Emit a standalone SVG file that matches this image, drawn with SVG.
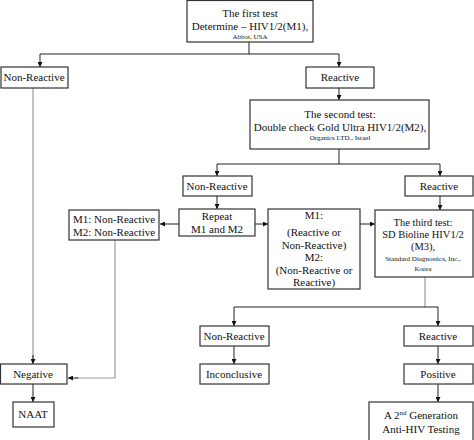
<svg xmlns="http://www.w3.org/2000/svg" width="474" height="440" viewBox="0 0 474 440">
<style>
.box{fill:#fff;stroke:#333;stroke-width:1.2}
text{font-family:"Liberation Serif","Times New Roman",serif;font-size:11px;fill:#111;text-anchor:middle}
.sm{font-size:7px}
.md{font-size:10.5px}
.ln{fill:none;stroke:#222;stroke-width:1}
.gr{fill:none;stroke:#999;stroke-width:1.2}
</style>
<defs>
<marker id="ar" viewBox="0 0 8 8" refX="8" refY="4" markerWidth="5" markerHeight="5" orient="auto" markerUnits="userSpaceOnUse">
<path d="M0,0 L8,4 L0,8 z" fill="#111"/>
</marker>
</defs>
<rect width="474" height="440" fill="#fff"/>
<g id="connectors">
<path class="ln" d="M249,42 V54 M40,54 H339"/>
<path class="ln" d="M40,54 V67" marker-end="url(#ar)"/>
<path class="ln" d="M339,54 V67" marker-end="url(#ar)"/>
<path class="ln" d="M339,88 V100" marker-end="url(#ar)"/>
<path class="ln" d="M339,149 V164 M217,164 H440"/>
<path class="ln" d="M217,164 V176" marker-end="url(#ar)"/>
<path class="ln" d="M440,164 V176" marker-end="url(#ar)"/>
<path class="ln" d="M217,196 V209" marker-end="url(#ar)"/>
<path class="ln" d="M440,196 V210" marker-end="url(#ar)"/>
<path class="ln" d="M179,224 H160" marker-end="url(#ar)"/>
<path class="ln" d="M255,224 H268" marker-end="url(#ar)"/>
<path class="ln" d="M360,224 H375" marker-end="url(#ar)"/>
<path class="gr" d="M33,88 V360"/>
<path class="ln" d="M33,355 V364" marker-end="url(#ar)"/>
<path class="gr" d="M115,240 V378 H75"/>
<path class="ln" d="M78,378 H68" marker-end="url(#ar)"/>
<path class="gr" d="M425,277 V307"/>
<path class="ln" d="M234,307 H438"/>
<path class="ln" d="M234,307 V326" marker-end="url(#ar)"/>
<path class="ln" d="M438,307 V326" marker-end="url(#ar)"/>
<path class="ln" d="M234,346 V364" marker-end="url(#ar)"/>
<path class="ln" d="M438,346 V364" marker-end="url(#ar)"/>
<path class="ln" d="M33,384 V402" marker-end="url(#ar)"/>
<path class="ln" d="M438,384 V402" marker-end="url(#ar)"/>
</g>
<g id="first-test">
<rect class="box" x="187" y="0.5" width="126" height="41.5"/>
<text x="250" y="17">The first test</text>
<text x="250" y="30">Determine  – HIV1/2(M1),</text>
<text class="sm" x="250" y="39">Abbot, USA</text>
</g>
<g id="nonreactive-1">
<rect class="box" x="1" y="67" width="67" height="21"/>
<text x="34" y="81">Non-Reactive</text>
</g>
<g id="reactive-1">
<rect class="box" x="306" y="67" width="68" height="21"/>
<text x="340" y="81">Reactive</text>
</g>
<g id="second-test">
<rect class="box" x="250" y="100" width="179" height="49"/>
<text x="340" y="118">The second test:</text>
<text x="340" y="131">Double check Gold Ultra HIV1/2(M2),</text>
<text class="sm" x="340" y="140">Organics LTD., Israel</text>
</g>
<g id="nonreactive-2">
<rect class="box" x="183" y="176" width="69" height="20"/>
<text x="217" y="190">Non-Reactive</text>
</g>
<g id="reactive-2">
<rect class="box" x="405" y="176" width="68" height="20"/>
<text x="439" y="190">Reactive</text>
</g>
<g id="m1m2-nonreactive">
<rect class="box" x="69" y="210" width="90" height="30"/>
<text x="114" y="223">M1: Non-Reactive</text>
<text x="114" y="236">M2: Non-Reactive</text>
</g>
<g id="repeat">
<rect class="box" x="179" y="209" width="76" height="27"/>
<text x="217" y="220">Repeat</text>
<text x="217" y="233">M1 and M2</text>
</g>
<g id="m1m2-mixed">
<rect class="box" x="268" y="209" width="92" height="80"/>
<text x="314" y="219">M1:</text>
<text x="314" y="236">(Reactive  or</text>
<text x="314" y="249">Non-Reactive)</text>
<text x="314" y="261">M2:</text>
<text x="314" y="274">(Non-Reactive  or</text>
<text x="314" y="286">Reactive)</text>
</g>
<g id="third-test">
<rect class="box" x="375" y="210" width="98" height="67"/>
<text class="md" x="423" y="226">The third test:</text>
<text class="md" x="423" y="238">SD Bioline  HIV1/2</text>
<text class="md" x="423" y="250">(M3),</text>
<text class="sm" x="423" y="261">Standard Diagnostics, Inc.,</text>
<text class="sm" x="423" y="271">Korea</text>
</g>
<g id="nonreactive-3">
<rect class="box" x="200" y="326" width="69" height="20"/>
<text x="234" y="340">Non-Reactive</text>
</g>
<g id="reactive-3">
<rect class="box" x="404" y="326" width="69" height="20"/>
<text x="438" y="340">Reactive</text>
</g>
<g id="negative">
<rect class="box" x="0.5" y="364" width="66.5" height="20"/>
<text x="33" y="378">Negative</text>
</g>
<g id="inconclusive">
<rect class="box" x="200" y="364" width="69" height="20"/>
<text x="234" y="378">Inconclusive</text>
</g>
<g id="positive">
<rect class="box" x="404" y="364" width="69" height="20"/>
<text x="438" y="378">Positive</text>
</g>
<g id="naat">
<rect class="box" x="13" y="402" width="41" height="25"/>
<text x="33" y="418">NAAT</text>
</g>
<g id="second-generation">
<rect class="box" x="369" y="402" width="104" height="40"/>
<text x="421" y="419">A 2<tspan font-size="7" dy="-4">nd</tspan><tspan dy="4"> Generation</tspan></text>
<text x="421" y="433">Anti-HIV  Testing</text>
</g>
</svg>
